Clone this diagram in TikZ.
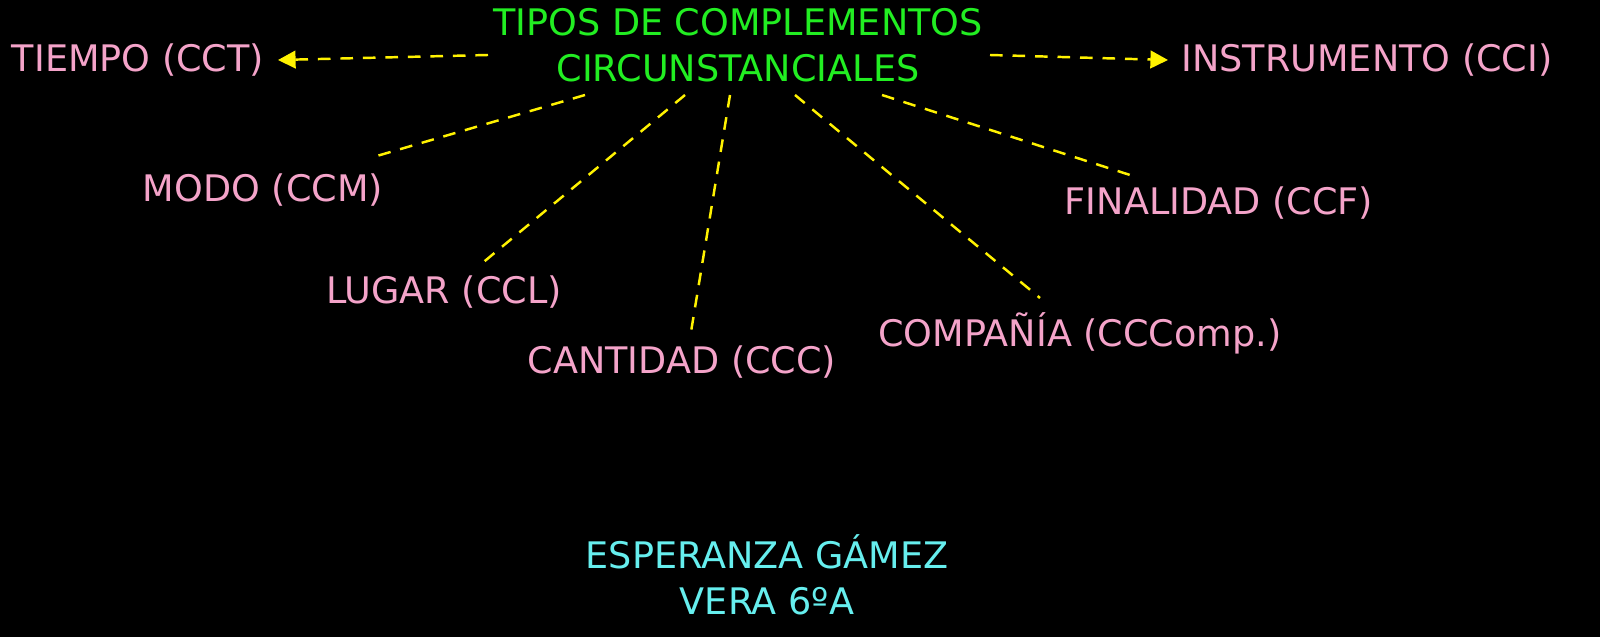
\documentclass[tikz,border=0pt]{standalone}
\usepackage{fontspec}
\setmainfont{DejaVu Sans}
\usetikzlibrary{arrows.meta}
\begin{document}
\begin{tikzpicture}[x=0.01cm,y=-0.01cm,
  lbl/.style={text=pinkc,font=\fontsize{10.4}{13}\selectfont,inner sep=0pt},
  con/.style={draw=yellow,dashed,dash pattern=on 3.6pt off 2.8pt,line width=0.7pt},
  arr/.style={con,-{Triangle[length=5pt,width=5pt]}}]
\definecolor{pinkc}{HTML}{F4A3C9}
\definecolor{greenc}{HTML}{22EE22}
\definecolor{cyanc}{HTML}{66EEEE}
\fill[black] (0,0) rectangle (1600,637);
\useasboundingbox (0,0) rectangle (1600,637);
\node[lbl,text=greenc,align=center,font=\fontsize{10.4}{13.1}\selectfont] (t) at (738,45) {TIPOS DE COMPLEMENTOS\\CIRCUNSTANCIALES};
\node[lbl] (tie) at (138,60) {TIEMPO (CCT)};
\node[lbl] (ins) at (1367,60) {INSTRUMENTO (CCI)};
\node[lbl] (mod) at (263,190) {MODO (CCM)};
\node[lbl] (lug) at (444,292) {LUGAR (CCL)};
\node[lbl] (can) at (682,362) {CANTIDAD (CCC)};
\node[lbl] (com) at (1080,333) {COMPAÑÍA (CCComp.)};
\node[lbl] (fin) at (1219,203) {FINALIDAD (CCF)};
\node[lbl,text=cyanc,align=center,font=\fontsize{10.4}{13.1}\selectfont] (aut) at (767,575) {ESPERANZA GÁMEZ\\VERA 6ºA};
\coordinate (a1) at (488,55); \coordinate (a2) at (278,60);
\coordinate (b1) at (990,55); \coordinate (b2) at (1168,60);
\draw[arr] (a1) -- (a2);
\draw[arr] (b1) -- (b2);
\coordinate (m1) at (585,95); \coordinate (m2) at (370,158);
\coordinate (l1) at (685,95); \coordinate (l2) at (480,265);
\coordinate (c1) at (730,95); \coordinate (c2) at (690,338);
\coordinate (o1) at (795,95); \coordinate (o2) at (1040,298);
\coordinate (f1) at (882,95); \coordinate (f2) at (1130,175);
\draw[con] (m1) -- (m2);
\draw[con] (l1) -- (l2);
\draw[con] (c1) -- (c2);
\draw[con] (o1) -- (o2);
\draw[con] (f1) -- (f2);
\end{tikzpicture}
\end{document}
